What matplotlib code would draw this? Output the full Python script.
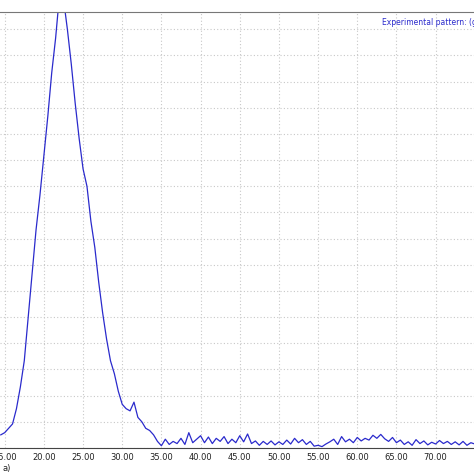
import matplotlib
matplotlib.use("Agg")
import matplotlib.pyplot as plt
import numpy as np

two_theta = [14.5 + 0.5 * i for i in range(122)]
intensity = [3, 3.5, 4.5, 5.5, 9, 14, 20, 30, 40, 50, 58, 67, 76, 86, 94, 104, 103, 96, 88, 79,
             71, 64, 60, 52, 46, 38, 31, 25, 20, 17, 13, 10, 9, 8.5, 10.5, 7, 6, 4.5, 4, 3,
             1.5, 0.5, 2, 0.8, 1.5, 1, 2.2, 0.8, 3.5, 1.2, 2, 2.8, 1.2, 2.5, 1, 2.2, 1.5, 2.6, 1, 2,
             1.2, 2.8, 1.4, 3.2, 1, 1.6, 0.6, 1.5, 0.8, 1.6, 0.7, 1.4, 0.8, 1.8, 0.9, 2.2, 1.2, 1.9, 0.8, 1.5,
             0.4, 0.6, 0.3, 0.9, 1.4, 2, 0.8, 2.6, 1.4, 2, 1.2, 2.4, 1.6, 2.2, 1.8, 2.9, 2.2, 3.1, 2.1, 1.5,
             2.4, 1.2, 1.8, 0.8, 1.4, 0.6, 1.9, 1, 1.6, 0.7, 1.3, 0.9, 1.7, 1, 1.5, 0.8, 1.4, 0.7, 1.5, 0.6,
             1.2, 0.9]
x_ticks = [15, 20, 25, 30, 35, 40, 45, 50, 55, 60, 65, 70]
x_labels = ["15.00", "20.00", "25.00", "30.00", "35.00", "40.00", "45.00", "50.00", "55.00", "60.00", "65.00", "70.00"]

fig = plt.figure(figsize=(4.74, 4.74), dpi=100)
ax = fig.add_axes([0, 0.055, 1, 0.92])
ax.plot(two_theta[:len(intensity)], intensity, color="#2a2acc", lw=0.9)
ax.set_xlim(14.4, 74.9)
ax.set_ylim(0, 100)
ax.set_xticks(x_ticks)
ax.set_xticklabels(x_labels, fontsize=6, color="#222222")
ax.set_yticks(np.arange(0, 101, 6))
ax.tick_params(axis="y", left=False, labelleft=False)
ax.tick_params(axis="x", length=0, pad=4)
ax.grid(True, color="#c8c8c8", linestyle=(0, (1, 2)), lw=0.8)
for s in ["left", "right"]:
    ax.spines[s].set_visible(False)
ax.spines["top"].set_color("#777777")
ax.spines["bottom"].set_color("#444444")
ax.text(0.805, 0.985, "Experimental pattern: (gamma", transform=ax.transAxes, fontsize=5.5,
        color="#2a2acc", va="top", ha="left", clip_on=False)
fig.text(0.005, 0.002, "a)", fontsize=6, color="#222222", va="bottom")
fig.savefig("out.png", dpi=100)
